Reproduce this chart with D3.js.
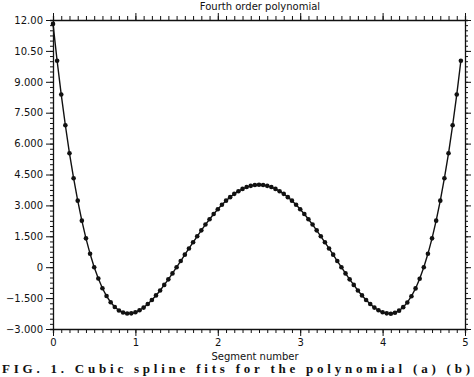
<!DOCTYPE html>
<html>
<head>
<meta charset="utf-8">
<script src="https://cdn.jsdelivr.net/npm/d3@7"></script>
<style>
  body { margin: 0; background: #fff; }
  svg { display: block; font-family: "DejaVu Sans", sans-serif; }
</style>
</head>
<body>
<svg id="chart" width="474" height="377"></svg>
<script>
// values, one per sample (step 0.05 along the segment axis)
const segmentValues = [
  11.81, 10.02, 8.38, 6.89, 5.53, 4.32, 3.23, 2.26, 1.40, 0.65,
  0.00, -0.55, -1.02, -1.40, -1.70, -1.93, -2.10, -2.20, -2.25, -2.24,
  -2.19, -2.09, -1.96, -1.79, -1.59, -1.37, -1.13, -0.86, -0.59, -0.30,
  0.00, 0.30, 0.61, 0.91, 1.21, 1.50, 1.79, 2.07, 2.33, 2.58,
  2.81, 3.03, 3.23, 3.40, 3.56, 3.69, 3.80, 3.89, 3.95, 3.99,
  4.00, 3.99, 3.95, 3.89, 3.80, 3.69, 3.56, 3.40, 3.23, 3.03,
  2.81, 2.58, 2.33, 2.07, 1.79, 1.50, 1.21, 0.91, 0.61, 0.30,
  0.00, -0.30, -0.59, -0.86, -1.13, -1.37, -1.59, -1.79, -1.96, -2.09,
  -2.19, -2.24, -2.26, -2.21, -2.11, -1.94, -1.71, -1.41, -1.03, -0.56,
  0.00, 0.65, 1.40, 2.26, 3.23, 4.32, 5.53, 6.89, 8.38, 10.02
];
const sampleStep = 0.05;

const xTickValues = [0, 1, 2, 3, 4, 5];
const xTickLabels = ["0", "1", "2", "3", "4", "5"];
const yTickValues = [12, 10.5, 9, 7.5, 6, 4.5, 3, 1.5, 0, -1.5, -3];
const yTickLabels = ["12.00", "10.50", "9.000", "7.500", "6.000", "4.500",
                     "3.000", "1.500", "0", "\u22121.500", "\u22123.000"];

const titleText = "Fourth order polynomial";
const xAxisLabel = "Segment number";
const captionText = "FIG. 1.  Cubic spline fits for the polynomial  (a)  (b)";

const margin = { top: 20, right: 9, bottom: 48, left: 53 };
const width = 474, height = 377;
const innerWidth = width - margin.left - margin.right;
const innerHeight = height - margin.top - margin.bottom;

const ink = "#111";

const svg = d3.select("#chart");
const g = svg.append("g").attr("transform", `translate(${margin.left},${margin.top})`);

const xScale = d3.scaleLinear().domain([0, 5]).range([0, innerWidth]);
const yScale = d3.scaleLinear().domain([-3, 12]).range([innerHeight, 0]);

const xMinor = d3.range(0, 5.001, 0.1);
const yMinor = d3.range(-3, 12.001, 0.25);

const styleAxis = sel => {
  sel.select(".domain").attr("stroke", ink).attr("stroke-width", 1.3);
  sel.selectAll(".tick line").attr("stroke", ink).attr("stroke-width", 1);
  sel.selectAll(".tick text").attr("fill", ink).attr("font-size", 10)
    .attr("font-family", "DejaVu Sans, sans-serif");
};
const dropText = sel => sel.selectAll(".tick text").remove();
const dropDomain = sel => sel.select(".domain").remove();

// bottom axis
g.append("g").attr("transform", `translate(0,${innerHeight})`)
  .call(d3.axisBottom(xScale).tickValues(xMinor).tickSize(4))
  .call(styleAxis).call(dropText);
g.append("g").attr("transform", `translate(0,${innerHeight})`)
  .call(d3.axisBottom(xScale).tickValues(xTickValues).tickSize(7).tickPadding(3)
    .tickFormat((d, i) => xTickLabels[i]))
  .call(styleAxis).call(dropDomain);

// top axis
g.append("g")
  .call(d3.axisTop(xScale).tickValues(xMinor).tickSize(4))
  .call(styleAxis).call(dropText);
g.append("g")
  .call(d3.axisTop(xScale).tickValues(xTickValues).tickSize(7))
  .call(styleAxis).call(dropText).call(dropDomain);

// left axis
g.append("g")
  .call(d3.axisLeft(yScale).tickValues(yMinor).tickSize(3))
  .call(styleAxis).call(dropText);
g.append("g")
  .call(d3.axisLeft(yScale).tickValues(yTickValues).tickSize(7).tickPadding(3)
    .tickFormat((d, i) => yTickLabels[i]))
  .call(styleAxis).call(dropDomain);

// right axis
g.append("g").attr("transform", `translate(${innerWidth},0)`)
  .call(d3.axisRight(yScale).tickValues(yMinor).tickSize(3))
  .call(styleAxis).call(dropText);
g.append("g").attr("transform", `translate(${innerWidth},0)`)
  .call(d3.axisRight(yScale).tickValues(yTickValues).tickSize(6))
  .call(styleAxis).call(dropText).call(dropDomain);

// curve + markers
const points = segmentValues.map((v, i) => ({ x: i * sampleStep, y: v }));

g.append("path")
  .datum(points)
  .attr("fill", "none")
  .attr("stroke", ink)
  .attr("stroke-width", 1.4)
  .attr("d", d3.line().x(d => xScale(d.x)).y(d => yScale(d.y)));

g.selectAll("circle.pt")
  .data(points)
  .join("circle")
  .attr("class", "pt")
  .attr("cx", d => xScale(d.x))
  .attr("cy", d => yScale(d.y))
  .attr("r", 2.3)
  .attr("fill", ink);

// texts
svg.append("text")
  .attr("x", 260).attr("y", 10)
  .attr("text-anchor", "middle")
  .attr("font-size", 10)
  .attr("fill", ink)
  .text(titleText);

svg.append("text")
  .attr("x", 255).attr("y", 360)
  .attr("text-anchor", "middle")
  .attr("font-size", 10)
  .attr("fill", ink)
  .text(xAxisLabel);

// figure caption along the bottom edge
svg.append("text")
  .attr("x", 2).attr("y", 373)
  .attr("font-size", 13)
  .attr("font-weight", "bold")
  .attr("font-family", "Liberation Serif, serif")
  .attr("textLength", 468)
  .attr("lengthAdjust", "spacing")
  .attr("fill", ink)
  .text(captionText);
</script>
</body>
</html>
